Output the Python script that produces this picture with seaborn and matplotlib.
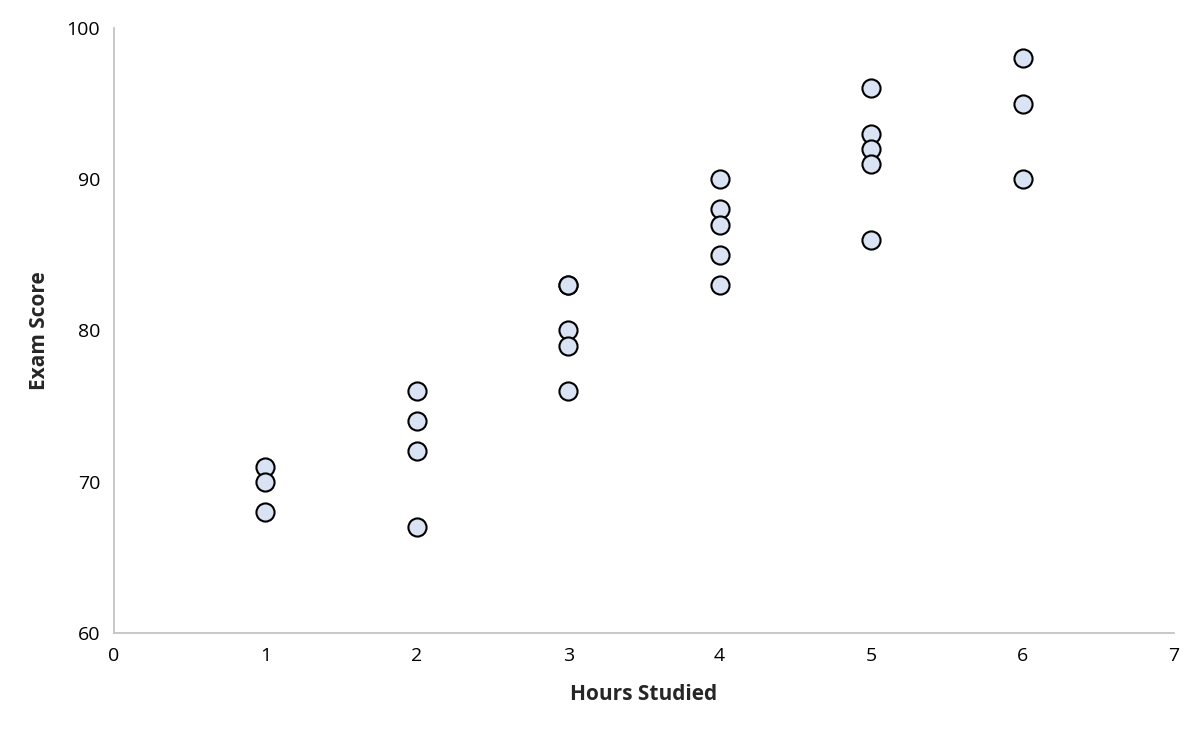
import matplotlib
matplotlib.use("Agg")
import matplotlib.pyplot as plt
import pandas as pd
import seaborn as sns

hours = [1, 1, 1, 2, 2, 2, 2, 3, 3, 3, 3, 3, 4, 4, 4, 4, 4, 5, 5, 5, 5, 5, 6, 6, 6]
scores = [71, 70, 68, 76, 74, 72, 67, 83, 83, 80, 79, 76, 90, 88, 87, 85, 83,
          96, 93, 92, 91, 86, 98, 95, 90]

df = pd.DataFrame({"Hours Studied": hours, "Exam Score": scores})

sns.set_style("white")
plt.rcParams["font.family"] = ["Open Sans", "DejaVu Sans"]

fig = plt.figure(figsize=(11.87, 7.36), dpi=100)
ax = fig.add_axes([0.096, 0.140, 0.893, 0.822])

sns.scatterplot(data=df, x="Hours Studied", y="Exam Score", ax=ax,
                s=170, color="#DAE3F3", edgecolor="black", linewidth=1.5, zorder=3)

ax.set_xlim(0, 7)
ax.set_ylim(60, 100)
ax.set_xticks(range(0, 8))
ax.set_yticks(range(60, 101, 10))
ax.tick_params(axis="both", labelsize=14, length=0, pad=10, colors="black")
ax.set_xlabel("Hours Studied", fontsize=15, fontweight="bold", labelpad=14)
ax.set_ylabel("Exam Score", fontsize=15, fontweight="bold", labelpad=12)

for side in ["top", "right"]:
    ax.spines[side].set_visible(False)
for side in ["left", "bottom"]:
    ax.spines[side].set_color("#BFBFBF")
    ax.spines[side].set_linewidth(1.2)

fig.savefig("out.png", dpi=100)
